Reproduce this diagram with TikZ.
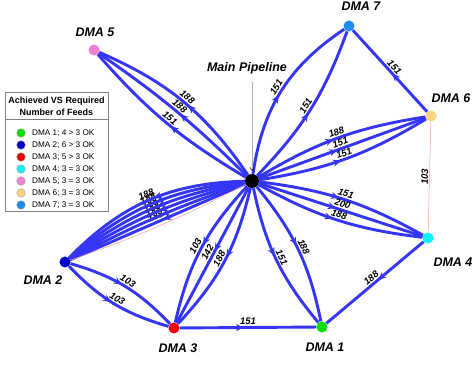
\documentclass[tikz,border=0pt]{standalone}
\usepackage{fontspec}
\setmainfont{Liberation Sans}
\usetikzlibrary{arrows.meta,decorations.markings,backgrounds}
\definecolor{pipeblue}{HTML}{3535F5}
\definecolor{thinred}{HTML}{F49A9A}
\definecolor{dmaone}{HTML}{00E000}
\definecolor{dmatwo}{HTML}{0000CD}
\definecolor{dmathree}{HTML}{F00000}
\definecolor{dmafour}{HTML}{10F0FF}
\definecolor{dmafive}{HTML}{F07FD2}
\definecolor{dmasix}{HTML}{FFD27F}
\definecolor{dmaseven}{HTML}{1E8CF0}

\begin{document}
\begin{tikzpicture}[x=1pt, y=1pt,
    dma/.style={circle, minimum size=11pt, inner sep=0pt},
    dmalabel/.style={font=\fontsize{12.5}{13}\selectfont\bfseries\itshape},
    flow/.style={color=pipeblue, line width=2.9pt, postaction={decorate},
        decoration={markings, mark=at position 0.47 with {\arrow{Stealth[length=8pt,width=7pt]}}}},
    feed/.style={font=\fontsize{9.5}{10}\selectfont\bfseries\itshape, text=black, inner sep=1.2pt, sloped, above, midway},
    redline/.style={draw=thinred, line width=0.5pt},
    keydot/.style={circle, draw=black!40, line width=0.3pt, minimum size=8.6pt, inner sep=0pt},
    keytext/.style={font=\fontsize{8.2}{9}\selectfont, anchor=west, inner sep=0pt},
]
\useasboundingbox (0,0) rectangle (474,372);

% network nodes
\node[circle, fill=black, minimum size=14pt, inner sep=0pt] (hub) at (252,191) {};
\node[dma, fill=dmaone]   (d1) at (322,45) {};
\node[dma, fill=dmatwo]   (d2) at (65,110) {};
\node[dma, fill=dmathree] (d3) at (174,44) {};
\node[dma, fill=dmafour]  (d4) at (428,134) {};
\node[dma, fill=dmafive]  (d5) at (94,322) {};
\node[dma, fill=dmasix]   (d6) at (431,256) {};
\node[dma, fill=dmaseven] (d7) at (349,346) {};

\node[dmalabel] (l1) at (325,25) {DMA 1};
\node[dmalabel] (l2) at (43,92) {DMA 2};
\node[dmalabel] (l3) at (178,24) {DMA 3};
\node[dmalabel] (l4) at (453,110) {DMA 4};
\node[dmalabel] (l5) at (95,340) {DMA 5};
\node[dmalabel] (l6) at (451,274) {DMA 6};
\node[dmalabel] (l7) at (361,366) {DMA 7};
\node[dmalabel] (mp) at (247,304) {Main Pipeline};
\coordinate (mptip) at (252,290);
\draw[gray!60, line width=0.5pt, -{Straight Barb[length=3pt,width=4pt,black]}, shorten >=3pt] (mptip) -- (hub);

\begin{scope}[on background layer]
% main pipeline to DMA 5
\draw[flow] (hub) to[bend right=16] node[feed]{188} (d5);
\draw[flow] (hub) to[bend right=5] node[feed]{188} (d5);
\draw[flow] (hub) to[bend left=9] node[feed]{151} (d5);
% main pipeline to DMA 7
\draw[flow] (hub) to[bend left=24] node[feed]{151} (d7);
\draw[flow] (hub) to[bend right=12] node[feed]{151} (d7);
% main pipeline to DMA 6
\draw[flow] (hub) to[bend left=11] node[feed]{188} (d6);
\draw[flow] (hub) -- node[feed]{151} (d6);
\draw[flow] (hub) to[bend right=11] node[feed]{151} (d6);
% main pipeline to DMA 4
\draw[flow] (hub) to[bend left=11] node[feed]{151} (d4);
\draw[flow] (hub) -- node[feed]{200} (d4);
\draw[flow] (hub) to[bend right=11] node[feed]{188} (d4);
% main pipeline to DMA 1
\draw[flow] (hub) to[bend right=14] node[feed]{151} (d1);
\draw[flow] (hub) to[bend left=14] node[feed]{188} (d1);
% main pipeline to DMA 3
\draw[flow] (hub) to[bend right=15] node[feed]{103} (d3);
\draw[flow] (hub) -- node[feed]{142} (d3);
\draw[flow] (hub) to[bend left=15] node[feed]{188} (d3);
% main pipeline to DMA 2
\foreach \b in {0,4.4,8.8,13.2,17.6,22}
    \draw[flow] (hub) to[bend right=\b] node[feed]{188} (d2);
\draw[redline] (hub) to[bend left=4] (d2);
% between the DMAs
\draw[flow] (d2) to[bend left=15] node[feed]{103} (d3);
\draw[flow] (d2) to[bend right=15] node[feed]{103} (d3);
\draw[flow] (d3) -- node[feed]{151} (d1);
\draw[flow] (d4) -- node[feed]{188} (d1);
\draw[flow] (d6) -- node[feed]{151} (d7);
\draw[redline] (d6) -- node[feed]{103} (d4);
\end{scope}

% legend
\draw[black!50, line width=0.4pt, fill=white] (5,161) rectangle (108,280);
\node[font=\fontsize{9}{10}\selectfont\bfseries, inner sep=0pt] (keytitle) at (56.5,271) {Achieved VS Required};
\node[font=\fontsize{9}{10}\selectfont\bfseries, inner sep=0pt] (keysub) at (56.5,260) {Number of Feeds};
\draw[black!50, line width=0.4pt] (5,253) -- (108,253);
\foreach \c/\t [count=\i] in {dmaone/{DMA 1; 4 > 3 OK}, dmatwo/{DMA 2; 6 > 3 OK}, dmathree/{DMA 3; 5 > 3 OK},
    dmafour/{DMA 4; 3 = 3 OK}, dmafive/{DMA 5; 3 = 3 OK}, dmasix/{DMA 6; 3 = 3 OK}, dmaseven/{DMA 7; 3 = 3 OK}} {
    \node[keydot, fill=\c] (k\i) at (21,251-12*\i) {};
    \node[keytext] (t\i) at (32,251-12*\i) {\t};
}
\end{tikzpicture}
\end{document}
